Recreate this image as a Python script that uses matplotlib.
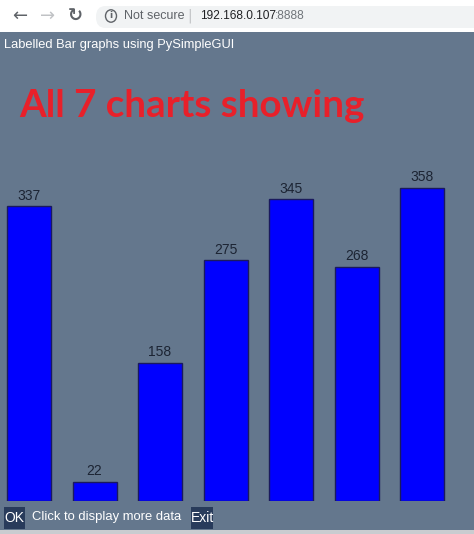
import matplotlib.pyplot as plt
from matplotlib.patches import Rectangle, FancyBboxPatch, Circle

# Data
values = [337, 22, 158, 275, 345, 268, 358]
positions = list(range(len(values)))

W, H = 474, 534
BG = '#64778d'
BTN = '#283b5b'


def fx(x):
    return x / W


def fy(y):
    return 1 - y / H


fig = plt.figure(figsize=(W / 100, H / 100), dpi=100)
fig.patch.set_facecolor(BG)

# browser toolbar
fig.add_artist(Rectangle((0, fy(32)), 1, 32 / H, transform=fig.transFigure,
                         facecolor='white', edgecolor='none'))
fig.add_artist(FancyBboxPatch((fx(96), fy(28)), fx(474 - 96) + 0.05, 22 / H,
                              boxstyle='round,pad=0,rounding_size=0.02',
                              transform=fig.transFigure, facecolor='#f1f3f4',
                              edgecolor='none'))
fig.text(fx(20), fy(16), '\u2190', fontsize=13, color='#5f6368', ha='center', va='center')
fig.text(fx(48), fy(16), '\u2192', fontsize=13, color='#c0c2c5', ha='center', va='center')
fig.text(fx(75), fy(16), '\u21bb', fontsize=13, color='#5f6368', ha='center', va='center',
         fontweight='bold')
fig.add_artist(Circle((fx(111), fy(16)), 5.5 / W, transform=fig.transFigure,
                      facecolor='none', edgecolor='#5f6368', lw=1))
fig.text(fx(111), fy(16), 'i', fontsize=6.5, color='#5f6368', ha='center', va='center',
         fontweight='bold')
fig.text(fx(124), fy(16), 'Not secure', fontsize=9, color='#5f6368', va='center',
         family='Liberation Sans')
fig.text(fx(190), fy(16), '|', fontsize=10, color='#c0c2c5', va='center', ha='center')
fig.text(fx(200), fy(16), '192.168.0.107', fontsize=8.6, color='#202124', va='center',
         family='Liberation Sans')
fig.text(fx(275), fy(16), ':8888', fontsize=8.6, color='#70757a', va='center',
         family='Liberation Sans')

# window header
fig.text(fx(4), fy(45), 'Labelled Bar graphs using PySimpleGUI', fontsize=9.3,
         color='white', va='center', family='Liberation Sans')

# big red title
fig.text(fx(19), fy(106), 'All 7 charts showing', fontsize=27.7, color='#e8202a',
         fontweight='bold', va='center', family='Lato')

# bar graph area: baseline at y=501, 350px tall for 400 units
ax = fig.add_axes([0, fy(501), 1, 350 / H])
ax.set_facecolor('none')
ax.bar(positions, values, width=44 / 65.5, color='#0000ff', edgecolor='#1a1a5e',
       linewidth=1)
for p, v in zip(positions, values):
    ax.annotate(str(v), (p, v), xytext=(0, 2.5), textcoords='offset points',
                ha='center', va='bottom', fontsize=10, color='#1c2433',
                family='Liberation Sans')
ax.set_xlim(-29 / 65.5, (W - 29) / 65.5)
ax.set_ylim(0, 400)
ax.axis('off')

# buttons row
fig.add_artist(Rectangle((fx(4), fy(529)), fx(21), 22 / H, transform=fig.transFigure,
                         facecolor=BTN, edgecolor='none'))
fig.text(fx(14.5), fy(518), 'OK', fontsize=10, color='white', ha='center', va='center',
         family='Liberation Sans')
fig.text(fx(32), fy(517), 'Click to display more data', fontsize=9.4, color='white',
         va='center', family='Liberation Sans')
fig.add_artist(Rectangle((fx(191), fy(529)), fx(22), 22 / H, transform=fig.transFigure,
                         facecolor=BTN, edgecolor='none'))
fig.text(fx(202), fy(518), 'Exit', fontsize=10, color='white', ha='center', va='center',
         family='Liberation Sans')

# bottom strip
fig.add_artist(Rectangle((0, 0), 1, 4 / H, transform=fig.transFigure,
                         facecolor='#c9ccd0', edgecolor='none'))

fig.savefig('out.png', dpi=100, facecolor=fig.get_facecolor())
